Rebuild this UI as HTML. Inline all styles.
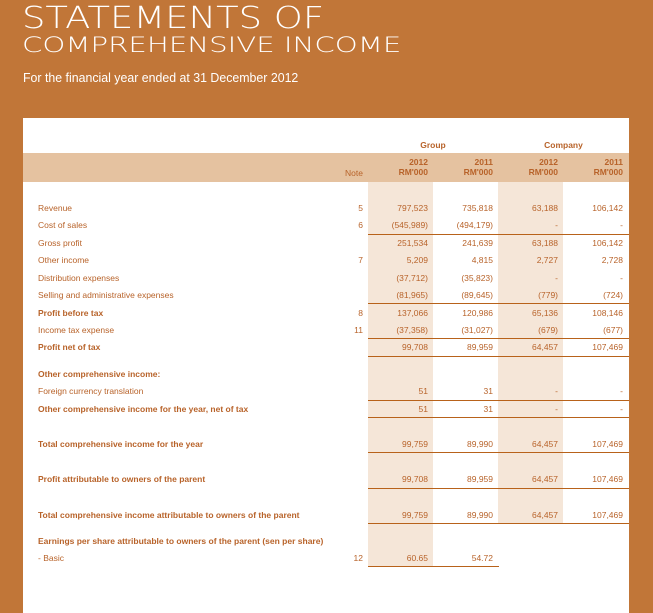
<!DOCTYPE html>
<html><head><style>
body{margin:0;width:653px;height:613px;background:#c17638;position:relative;overflow:hidden;font-family:"Liberation Sans",sans-serif;}
.t{position:absolute;color:#fff;white-space:nowrap;}
.p{position:absolute;left:23px;top:118px;width:606px;height:495px;background:#fff;}
.a{position:absolute;}
.tx{position:absolute;font-size:8.5px;color:#b8632a;white-space:nowrap;line-height:10px;}
.b{font-weight:bold;}
.r{text-align:right;}
.ln{position:absolute;height:1px;background:#b8621a;}
.th{font-family:"DejaVu Sans ExtraLight","DejaVu Sans","Liberation Sans",sans-serif;font-weight:200;}
</style></head><body>
<div class="t th" style="left:22px;top:1px;font-size:30px;transform:scaleX(1.23);transform-origin:left;">STATEMENTS OF</div>
<div class="t th" style="left:22px;top:33px;font-size:21px;transform:scaleX(1.39);transform-origin:left;">COMPREHENSIVE INCOME</div>
<div class="t" style="left:23px;top:70px;font-size:13px;transform:scaleX(0.95);transform-origin:left;">For the financial year ended at 31 December 2012</div>
<div class="p"></div>
<div class="a" style="left:23px;top:153px;width:606px;height:29px;background:#e5c2a0;"></div>
<div class="a" style="left:368px;top:182px;width:65px;height:384px;background:#f5e6d8;"></div>
<div class="a" style="left:498px;top:182px;width:65px;height:341px;background:#f5e6d8;"></div>
<div class="tx b" style="left:368px;width:130px;top:140px;text-align:center;">Group</div>
<div class="tx b" style="left:498px;width:131px;top:140px;text-align:center;">Company</div>
<div class="tx r" style="left:300px;width:63px;top:168px;">Note</div>
<div class="tx b r" style="left:368px;width:60px;top:157px;">2012<br>RM'000</div>
<div class="tx b r" style="left:433px;width:60px;top:157px;">2011<br>RM'000</div>
<div class="tx b r" style="left:498px;width:60px;top:157px;">2012<br>RM'000</div>
<div class="tx b r" style="left:563px;width:60px;top:157px;">2011<br>RM'000</div>
<div class="ln" style="left:368px;width:261px;top:234px"></div>
<div class="ln" style="left:368px;width:261px;top:303px"></div>
<div class="ln" style="left:368px;width:261px;top:338px"></div>
<div class="ln" style="left:368px;width:261px;top:356px"></div>
<div class="ln" style="left:368px;width:261px;top:400px"></div>
<div class="ln" style="left:368px;width:261px;top:417px"></div>
<div class="ln" style="left:368px;width:261px;top:452px"></div>
<div class="ln" style="left:368px;width:261px;top:488px"></div>
<div class="ln" style="left:368px;width:261px;top:523px"></div>
<div class="ln" style="left:368px;width:131px;top:566px"></div>
<div id="rows"></div>
<script>
var R=[[203,"Revenue",0,"5","797,523","735,818","63,188","106,142"],
[220,"Cost of sales",0,"6","(545,989)","(494,179)","-","-"],
[238,"Gross profit",0,"","251,534","241,639","63,188","106,142"],
[255,"Other income",0,"7","5,209","4,815","2,727","2,728"],
[273,"Distribution expenses",0,"","(37,712)","(35,823)","-","-"],
[290,"Selling and administrative expenses",0,"","(81,965)","(89,645)","(779)","(724)"],
[308,"Profit before tax",1,"8","137,066","120,986","65,136","108,146"],
[325,"Income tax expense",0,"11","(37,358)","(31,027)","(679)","(677)"],
[342,"Profit net of tax",1,"","99,708","89,959","64,457","107,469"],
[369,"Other comprehensive income:",1,"","","","",""],
[386,"Foreign currency translation",0,"","51","31","-","-"],
[404,"Other comprehensive income for the year, net of tax",1,"","51","31","-","-"],
[439,"Total comprehensive income for the year",1,"","99,759","89,990","64,457","107,469"],
[474,"Profit attributable to owners of the parent",1,"","99,708","89,959","64,457","107,469"],
[510,"Total comprehensive income attributable to owners of the parent",1,"","99,759","89,990","64,457","107,469"],
[536,"Earnings per share attributable to owners of the parent (sen per share)",1,"","","","",""],
[553,"- Basic",0,"12","60.65","54.72","",""]];
var h="";R.forEach(function(r){var y=r[0];
h+='<div class="tx'+(r[2]?' b':'')+'" style="left:38px;top:'+y+'px">'+r[1]+'</div>';
h+='<div class="tx r" style="left:300px;width:63px;top:'+y+'px">'+r[3]+'</div>';
[428,493,558,623].forEach(function(x,i){h+='<div class="tx r" style="left:'+(x-70)+'px;width:70px;top:'+y+'px">'+r[4+i]+'</div>';});});
document.getElementById("rows").innerHTML=h;
</script>
</body></html>
